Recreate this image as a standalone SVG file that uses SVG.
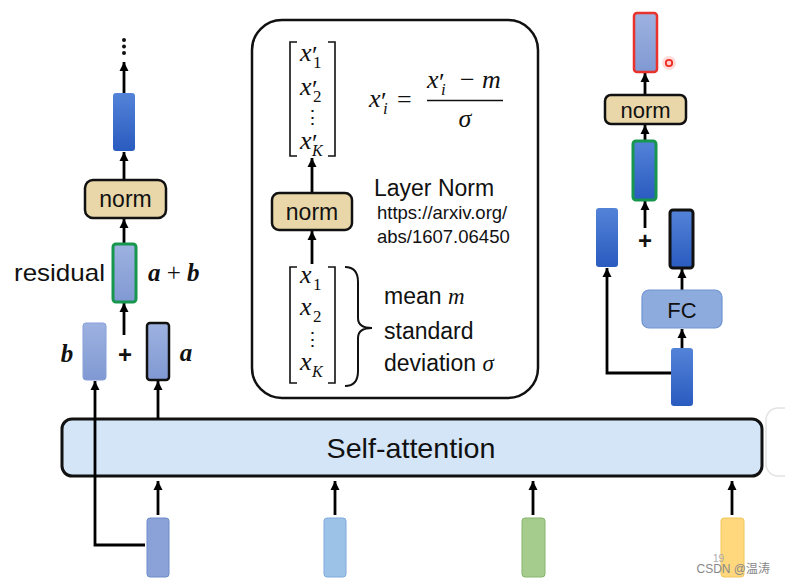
<svg xmlns="http://www.w3.org/2000/svg" width="785" height="584" viewBox="0 0 785 584">
<defs>
<linearGradient id="blue" x1="0" y1="0" x2="0" y2="1"><stop offset="0" stop-color="#5383d8"/><stop offset="1" stop-color="#2a5bbf"/></linearGradient>
<linearGradient id="lav" x1="0" y1="0" x2="0" y2="1"><stop offset="0" stop-color="#9db2e0"/><stop offset="1" stop-color="#8199d3"/></linearGradient>
<marker id="ah" markerUnits="userSpaceOnUse" markerWidth="10" markerHeight="10" refX="9" refY="5" orient="auto"><path d="M0,0.5 L9,5 L0,9.5 z" fill="#000"/></marker>
</defs>
<style>
.ar{stroke:#000;stroke-width:2.8;fill:none;marker-end:url(#ah)}
.norm{fill:#e9d7aa;stroke:#111;stroke-width:2.5}
.sans{font-family:"Liberation Sans",Arial,sans-serif;fill:#111}
.math{font-family:"Liberation Serif","Times New Roman",serif;font-style:italic;font-size:26px;fill:#111}
.vd{font-family:"Liberation Serif","Times New Roman",serif;font-style:normal;font-size:19px;fill:#111}
.up{font-style:normal}
.pr{font-style:normal;font-size:26px}
.sb{font-size:17px}
.bi{font-family:"Liberation Serif","Times New Roman",serif;font-style:italic;font-weight:bold;fill:#111}
.br{stroke:#111;stroke-width:1.6;fill:none}
</style>
<rect width="785" height="584" fill="#fff"/>

<!-- screen artifact at right edge -->
<rect x="766" y="408" width="40" height="68" rx="12" fill="#fff" stroke="#e2e2e2" stroke-width="1.5"/>

<!-- Self-attention -->
<g id="self-attention"><rect x="62" y="419" width="700" height="57" rx="10" fill="#d3e5f6" stroke="#111" stroke-width="3"/>
<text class="sans" x="411" y="458" font-size="28" text-anchor="middle" textLength="169" lengthAdjust="spacingAndGlyphs">Self-attention</text></g>

<!-- Middle panel -->
<g id="panel"><rect x="252" y="20" width="286" height="378" rx="30" fill="#fff" stroke="#111" stroke-width="2.5"/></g>

<g id="connectors">
<path class="ar" d="M124,93 V62"/>
<path class="ar" d="M124,180 V152"/>
<path class="ar" d="M124,244 V219"/>
<path class="ar" d="M124,335 V303"/>
<path class="ar" d="M158,419 V381"/>
<path class="ar" d="M145,545 H95 V381"/>
<path class="ar" d="M158,515 V481"/>
<path class="ar" d="M335,515 V481"/>
<path class="ar" d="M533,515 V481"/>
<path class="ar" d="M732,515 V481"/>
<path class="ar" d="M312,193 V158"/>
<path class="ar" d="M312,264 V231"/>
<path class="ar" d="M645,95 V73"/>
<path class="ar" d="M645,141 V125"/>
<path class="ar" d="M645,228 V201"/>
<path class="ar" d="M682,290 V269"/>
<path class="ar" d="M682,348 V329"/>
<path class="ar" d="M671,373 H607 V268"/>
</g>

<!-- Left column -->
<g id="dots"><circle cx="124" cy="40" r="2" fill="#111"/><circle cx="124" cy="46.5" r="2" fill="#111"/><circle cx="124" cy="53" r="2" fill="#111"/></g>
<g id="left-out"><rect x="113" y="93" width="22" height="58" rx="3" fill="url(#blue)"/></g>
<g id="left-norm"><rect class="norm" x="85" y="180" width="81" height="38" rx="8"/><text class="sans" x="125.5" y="207" font-size="23" text-anchor="middle">norm</text></g>
<g id="left-residual"><rect x="113" y="244" width="23" height="58" rx="3" fill="url(#lav)" stroke="#17964e" stroke-width="3"/>
<text class="sans" x="105" y="281" font-size="24" text-anchor="end" textLength="91" lengthAdjust="spacingAndGlyphs">residual</text>
<text class="bi" x="148" y="281" font-size="25">a <tspan font-style="normal" font-weight="normal">+</tspan> b</text></g>
<g id="left-plus"><text class="sans" x="125" y="363" font-size="24" font-weight="bold" text-anchor="middle">+</text></g>
<g id="left-b"><rect x="83" y="323" width="23" height="57" rx="3" fill="url(#lav)" stroke="#86a0d8" stroke-width="1"/><text class="bi" x="67" y="362" font-size="25" text-anchor="middle">b</text></g>
<g id="left-a"><rect x="147" y="323" width="22" height="57" rx="3" fill="url(#lav)" stroke="#111" stroke-width="2.5"/><text class="bi" x="186" y="361" font-size="25" text-anchor="middle">a</text></g>

<!-- bottom inputs -->
<g id="in1"><rect x="147" y="518" width="22" height="59" rx="3" fill="#8aa2d8" stroke="#6f8cc9" stroke-width="1"/></g>
<g id="in2"><rect x="324" y="518" width="22" height="59" rx="3" fill="#9cc2e8" stroke="#7eaadb" stroke-width="1"/></g>
<g id="in3"><rect x="522" y="518" width="23" height="59" rx="3" fill="#a5cc8c" stroke="#86b56c" stroke-width="1"/></g>
<g id="in4"><rect x="721" y="518" width="23" height="59" rx="3" fill="#ffd87e" stroke="#f2c55a" stroke-width="1"/></g>

<g id="top-vector">
<path class="br" d="M297,42 H290 V156 H297"/><path class="br" d="M328,42 H335 V156 H328"/>
<text class="math" x="300" y="61">x<tspan class="pr" x="312" y="64">′</tspan><tspan class="up sb" x="313" y="68">1</tspan></text>
<text class="math" x="300" y="95">x<tspan class="pr" x="312" y="98">′</tspan><tspan class="up sb" x="313" y="102">2</tspan></text>
<text class="vd" x="312" y="124" text-anchor="middle">⋮</text>
<text class="math" x="300" y="149">x<tspan class="pr" x="312" y="152">′</tspan><tspan font-size="16" x="312" y="156">K</tspan></text>
</g>
<g id="formula">
<text class="math" x="369" y="107">x<tspan class="pr" x="381" y="110">′</tspan><tspan class="sb" x="383" y="114">i</tspan><tspan class="up" x="397" y="108">=</tspan></text>
<text class="math" x="427" y="88">x<tspan class="pr" x="439" y="91">′</tspan><tspan class="sb" x="441" y="95">i</tspan><tspan class="up" x="460" y="88">−</tspan><tspan x="482" y="88">m</tspan></text>
<line x1="427" y1="100.5" x2="503" y2="100.5" stroke="#111" stroke-width="1.5"/>
<text class="math" x="465" y="127" text-anchor="middle">σ</text>
</g>
<g id="mid-norm"><rect class="norm" x="272" y="193" width="80" height="37" rx="7"/><text class="sans" x="312" y="220" font-size="23" text-anchor="middle">norm</text></g>
<g id="layer-norm-label">
<text class="sans" x="374" y="196" font-size="23">Layer Norm</text>
<text class="sans" x="377" y="219" font-size="18.5">https://arxiv.org/</text>
<text class="sans" x="377" y="243" font-size="18.5">abs/1607.06450</text>
</g>
<g id="bottom-vector">
<path class="br" d="M297,267 H290 V383 H297"/><path class="br" d="M328,267 H335 V383 H328"/>
<text class="math" x="300" y="283">x<tspan class="up sb" x="313" y="290">1</tspan></text>
<text class="math" x="300" y="315">x<tspan class="up sb" x="313" y="322">2</tspan></text>
<text class="vd" x="312" y="346" text-anchor="middle">⋮</text>
<text class="math" x="300" y="370">x<tspan font-size="16" x="312" y="377">K</tspan></text>
<path d="M345,267 Q358,267 358,282 L358,318 Q358,328 372,328 Q358,328 358,338 L358,371 Q358,386 345,386" fill="none" stroke="#111" stroke-width="2"/>
</g>
<g id="stats-label">
<text class="sans" x="384" y="304" font-size="23">mean <tspan font-family="Liberation Serif, serif" font-style="italic">m</tspan></text>
<text class="sans" x="384" y="339" font-size="23">standard</text>
<text class="sans" x="384" y="371" font-size="23">deviation <tspan font-family="Liberation Serif, serif" font-style="italic">σ</tspan></text>
</g>

<!-- Right column -->
<g id="right-out"><rect x="634" y="13" width="23" height="59" rx="3" fill="url(#lav)" stroke="#e8322b" stroke-width="2.5"/></g>
<g id="pointer"><circle cx="669" cy="63" r="7" fill="#ff3b30" opacity="0.18"/><circle cx="669" cy="63" r="3.2" fill="#ffd0cc" stroke="#f02a20" stroke-width="1.8"/></g>
<g id="right-norm"><rect class="norm" x="605" y="95" width="81" height="29" rx="6"/><text class="sans" x="645.5" y="118" font-size="22" text-anchor="middle">norm</text></g>
<g id="right-sum"><rect x="633" y="141" width="23" height="59" rx="3" fill="url(#blue)" stroke="#17964e" stroke-width="3"/></g>
<g id="right-plus"><text class="sans" x="645" y="249" font-size="24" font-weight="bold" text-anchor="middle">+</text></g>
<g id="right-skip"><rect x="596" y="208" width="22" height="59" rx="3" fill="url(#blue)"/></g>
<g id="right-fcout"><rect x="670" y="210" width="23" height="58" rx="3" fill="url(#blue)" stroke="#111" stroke-width="3"/></g>
<g id="fc"><rect x="642" y="290" width="80" height="38" rx="7" fill="#8eabdd" stroke="#7093d2" stroke-width="1.2"/><text class="sans" x="682" y="318" font-size="22" text-anchor="middle" fill="#222">FC</text></g>
<g id="right-in"><rect x="671" y="348" width="22" height="58" rx="3" fill="url(#blue)"/></g>

<!-- watermark -->
<text x="713" y="562" font-size="10" fill="#aaa" font-family="'Liberation Sans',sans-serif">19</text>
<text x="770" y="573" font-size="12" text-anchor="end" fill="#888" font-family="'Liberation Sans','Noto Sans CJK SC',sans-serif">CSDN @温涛</text>
</svg>
